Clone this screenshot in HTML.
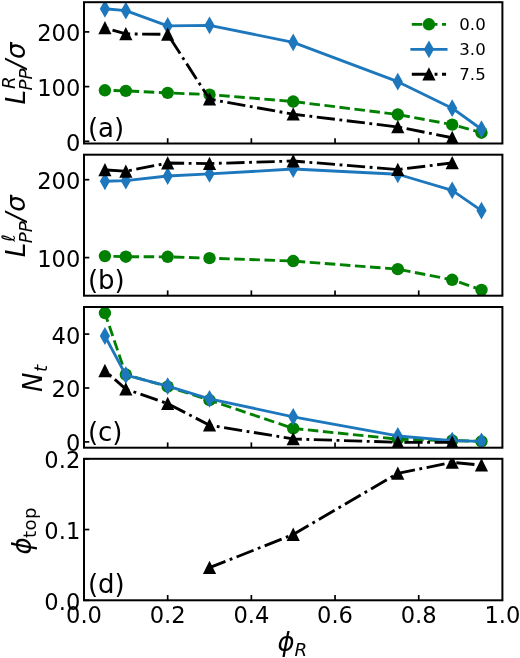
<!DOCTYPE html>
<html><head><meta charset="utf-8"><title>figure</title><style>html,body{margin:0;padding:0;background:#fff}svg{display:block}</style></head><body>
<svg width="520" height="658" viewBox="0 0 520 658" font-family='"DejaVu Sans", "Liberation Sans", sans-serif'>
<rect width="520" height="658" fill="#ffffff"/>
<defs>
<clipPath id="cpa"><rect x="84.00" y="2.20" width="418.40" height="141.30"/></clipPath>
<clipPath id="cpb"><rect x="84.00" y="154.70" width="418.40" height="141.00"/></clipPath>
<clipPath id="cpc"><rect x="84.00" y="307.00" width="418.40" height="140.70"/></clipPath>
<clipPath id="cpd"><rect x="84.00" y="458.80" width="418.40" height="141.50"/></clipPath>
</defs>
<g clip-path="url(#cpa)">
<polyline points="104.92,90.32 125.84,90.87 167.68,92.89 209.52,94.59 293.20,101.53 397.80,114.50 452.19,124.62 481.48,132.71" fill="none" stroke="#008000" stroke-width="2.85" stroke-linejoin="round" stroke-dasharray="10.55 4.56" stroke-dashoffset="6.5"/>
<circle cx="104.92" cy="90.32" r="6.2" fill="#008000"/>
<circle cx="125.84" cy="90.87" r="6.2" fill="#008000"/>
<circle cx="167.68" cy="92.89" r="6.2" fill="#008000"/>
<circle cx="209.52" cy="94.59" r="6.2" fill="#008000"/>
<circle cx="293.20" cy="101.53" r="6.2" fill="#008000"/>
<circle cx="397.80" cy="114.50" r="6.2" fill="#008000"/>
<circle cx="452.19" cy="124.62" r="6.2" fill="#008000"/>
<circle cx="481.48" cy="132.71" r="6.2" fill="#008000"/>
<polyline points="104.92,8.76 125.84,10.68 167.68,25.88 209.52,25.34 293.20,42.40 397.80,81.68 452.19,108.21 481.48,129.27" fill="none" stroke="#1d77bc" stroke-width="2.85" stroke-linejoin="round"/>
<polygon points="104.92,-0.14 110.02,8.76 104.92,17.66 99.82,8.76" fill="#1d77bc"/>
<polygon points="125.84,1.78 130.94,10.68 125.84,19.58 120.74,10.68" fill="#1d77bc"/>
<polygon points="167.68,16.98 172.78,25.88 167.68,34.78 162.58,25.88" fill="#1d77bc"/>
<polygon points="209.52,16.44 214.62,25.34 209.52,34.24 204.42,25.34" fill="#1d77bc"/>
<polygon points="293.20,33.50 298.30,42.40 293.20,51.30 288.10,42.40" fill="#1d77bc"/>
<polygon points="397.80,72.78 402.90,81.68 397.80,90.58 392.70,81.68" fill="#1d77bc"/>
<polygon points="452.19,99.31 457.29,108.21 452.19,117.11 447.09,108.21" fill="#1d77bc"/>
<polygon points="481.48,120.37 486.58,129.27 481.48,138.17 476.38,129.27" fill="#1d77bc"/>
<polyline points="104.92,27.80 125.84,33.92 167.68,34.31 209.52,99.18 293.20,114.22 397.80,126.91 452.19,137.74" fill="none" stroke="#000000" stroke-width="2.85" stroke-linejoin="round" stroke-dasharray="18.24 4.56 2.85 4.56" stroke-dashoffset="22.3"/>
<polygon points="104.92,20.90 111.52,34.20 98.32,34.20" fill="#000000"/>
<polygon points="125.84,27.02 132.44,40.32 119.24,40.32" fill="#000000"/>
<polygon points="167.68,27.41 174.28,40.71 161.08,40.71" fill="#000000"/>
<polygon points="209.52,92.28 216.12,105.58 202.92,105.58" fill="#000000"/>
<polygon points="293.20,107.32 299.80,120.62 286.60,120.62" fill="#000000"/>
<polygon points="397.80,120.01 404.40,133.31 391.20,133.31" fill="#000000"/>
<polygon points="452.19,130.84 458.79,144.14 445.59,144.14" fill="#000000"/>
</g>
<line x1="167.68" y1="143.50" x2="167.68" y2="138.20" stroke="#000" stroke-width="1.70"/>
<line x1="251.36" y1="143.50" x2="251.36" y2="138.20" stroke="#000" stroke-width="1.70"/>
<line x1="335.04" y1="143.50" x2="335.04" y2="138.20" stroke="#000" stroke-width="1.70"/>
<line x1="418.72" y1="143.50" x2="418.72" y2="138.20" stroke="#000" stroke-width="1.70"/>
<line x1="84.00" y1="141.30" x2="89.30" y2="141.30" stroke="#000" stroke-width="1.70"/>
<text x="80.30" y="150.75" font-size="22.60" text-anchor="end">0</text>
<line x1="84.00" y1="86.60" x2="89.30" y2="86.60" stroke="#000" stroke-width="1.70"/>
<text x="80.30" y="96.05" font-size="22.60" text-anchor="end">100</text>
<line x1="84.00" y1="31.90" x2="89.30" y2="31.90" stroke="#000" stroke-width="1.70"/>
<text x="80.30" y="41.35" font-size="22.60" text-anchor="end">200</text>
<rect x="84.00" y="2.20" width="418.40" height="141.30" fill="none" stroke="#000" stroke-width="2.00"/>
<text x="87.90" y="136.60" font-size="26.00">(a)</text>
<g clip-path="url(#cpb)">
<polyline points="104.92,256.12 125.84,256.74 167.68,256.82 209.52,258.15 293.20,261.03 397.80,269.13 452.19,279.80 481.48,289.93" fill="none" stroke="#008000" stroke-width="2.85" stroke-linejoin="round" stroke-dasharray="10.55 4.56" stroke-dashoffset="6.6"/>
<circle cx="104.92" cy="256.12" r="6.2" fill="#008000"/>
<circle cx="125.84" cy="256.74" r="6.2" fill="#008000"/>
<circle cx="167.68" cy="256.82" r="6.2" fill="#008000"/>
<circle cx="209.52" cy="258.15" r="6.2" fill="#008000"/>
<circle cx="293.20" cy="261.03" r="6.2" fill="#008000"/>
<circle cx="397.80" cy="269.13" r="6.2" fill="#008000"/>
<circle cx="452.19" cy="279.80" r="6.2" fill="#008000"/>
<circle cx="481.48" cy="289.93" r="6.2" fill="#008000"/>
<polyline points="104.92,181.26 125.84,180.63 167.68,176.04 209.52,173.94 293.20,169.03 397.80,174.25 452.19,190.37 481.48,210.55" fill="none" stroke="#1d77bc" stroke-width="2.85" stroke-linejoin="round"/>
<polygon points="104.92,172.36 110.02,181.26 104.92,190.16 99.82,181.26" fill="#1d77bc"/>
<polygon points="125.84,171.73 130.94,180.63 125.84,189.53 120.74,180.63" fill="#1d77bc"/>
<polygon points="167.68,167.14 172.78,176.04 167.68,184.94 162.58,176.04" fill="#1d77bc"/>
<polygon points="209.52,165.04 214.62,173.94 209.52,182.84 204.42,173.94" fill="#1d77bc"/>
<polygon points="293.20,160.13 298.30,169.03 293.20,177.93 288.10,169.03" fill="#1d77bc"/>
<polygon points="397.80,165.35 402.90,174.25 397.80,183.15 392.70,174.25" fill="#1d77bc"/>
<polygon points="452.19,181.47 457.29,190.37 452.19,199.27 447.09,190.37" fill="#1d77bc"/>
<polygon points="481.48,201.65 486.58,210.55 481.48,219.45 476.38,210.55" fill="#1d77bc"/>
<polyline points="104.92,169.88 125.84,171.29 167.68,163.03 209.52,163.57 293.20,161.00 397.80,169.57 452.19,162.95" fill="none" stroke="#000000" stroke-width="2.85" stroke-linejoin="round" stroke-dasharray="18.24 4.56 2.85 4.56" stroke-dashoffset="28.8"/>
<polygon points="104.92,162.98 111.52,176.28 98.32,176.28" fill="#000000"/>
<polygon points="125.84,164.39 132.44,177.69 119.24,177.69" fill="#000000"/>
<polygon points="167.68,156.13 174.28,169.43 161.08,169.43" fill="#000000"/>
<polygon points="209.52,156.67 216.12,169.97 202.92,169.97" fill="#000000"/>
<polygon points="293.20,154.10 299.80,167.40 286.60,167.40" fill="#000000"/>
<polygon points="397.80,162.67 404.40,175.97 391.20,175.97" fill="#000000"/>
<polygon points="452.19,156.05 458.79,169.35 445.59,169.35" fill="#000000"/>
</g>
<line x1="167.68" y1="295.70" x2="167.68" y2="290.40" stroke="#000" stroke-width="1.70"/>
<line x1="251.36" y1="295.70" x2="251.36" y2="290.40" stroke="#000" stroke-width="1.70"/>
<line x1="335.04" y1="295.70" x2="335.04" y2="290.40" stroke="#000" stroke-width="1.70"/>
<line x1="418.72" y1="295.70" x2="418.72" y2="290.40" stroke="#000" stroke-width="1.70"/>
<line x1="84.00" y1="257.60" x2="89.30" y2="257.60" stroke="#000" stroke-width="1.70"/>
<text x="80.30" y="267.05" font-size="22.60" text-anchor="end">100</text>
<line x1="84.00" y1="179.70" x2="89.30" y2="179.70" stroke="#000" stroke-width="1.70"/>
<text x="80.30" y="189.15" font-size="22.60" text-anchor="end">200</text>
<rect x="84.00" y="154.70" width="418.40" height="141.00" fill="none" stroke="#000" stroke-width="2.00"/>
<text x="87.90" y="288.80" font-size="26.00">(b)</text>
<g clip-path="url(#cpc)">
<polyline points="104.92,313.08 125.84,374.52 167.68,386.65 209.52,400.13 293.20,428.42 397.80,439.20 452.19,440.55 481.48,441.36" fill="none" stroke="#008000" stroke-width="2.85" stroke-linejoin="round" stroke-dasharray="10.55 4.56" stroke-dashoffset="1.4"/>
<circle cx="104.92" cy="313.08" r="6.2" fill="#008000"/>
<circle cx="125.84" cy="374.52" r="6.2" fill="#008000"/>
<circle cx="167.68" cy="386.65" r="6.2" fill="#008000"/>
<circle cx="209.52" cy="400.13" r="6.2" fill="#008000"/>
<circle cx="293.20" cy="428.42" r="6.2" fill="#008000"/>
<circle cx="397.80" cy="439.20" r="6.2" fill="#008000"/>
<circle cx="452.19" cy="440.55" r="6.2" fill="#008000"/>
<circle cx="481.48" cy="441.36" r="6.2" fill="#008000"/>
<polyline points="104.92,335.99 125.84,375.06 167.68,386.11 209.52,398.78 293.20,416.84 397.80,435.97 452.19,440.55 481.48,441.36" fill="none" stroke="#1d77bc" stroke-width="2.85" stroke-linejoin="round"/>
<polygon points="104.92,327.09 110.02,335.99 104.92,344.89 99.82,335.99" fill="#1d77bc"/>
<polygon points="125.84,366.16 130.94,375.06 125.84,383.96 120.74,375.06" fill="#1d77bc"/>
<polygon points="167.68,377.21 172.78,386.11 167.68,395.01 162.58,386.11" fill="#1d77bc"/>
<polygon points="209.52,389.88 214.62,398.78 209.52,407.68 204.42,398.78" fill="#1d77bc"/>
<polygon points="293.20,407.94 298.30,416.84 293.20,425.74 288.10,416.84" fill="#1d77bc"/>
<polygon points="397.80,427.07 402.90,435.97 397.80,444.87 392.70,435.97" fill="#1d77bc"/>
<polygon points="452.19,431.65 457.29,440.55 452.19,449.45 447.09,440.55" fill="#1d77bc"/>
<polygon points="481.48,432.46 486.58,441.36 481.48,450.26 476.38,441.36" fill="#1d77bc"/>
<polyline points="104.92,370.75 125.84,389.08 167.68,403.63 209.52,425.19 293.20,438.94 397.80,442.30 452.19,442.30" fill="none" stroke="#000000" stroke-width="2.85" stroke-linejoin="round" stroke-dasharray="18.24 4.56 2.85 4.56" stroke-dashoffset="17.1"/>
<polygon points="104.92,363.85 111.52,377.15 98.32,377.15" fill="#000000"/>
<polygon points="125.84,382.18 132.44,395.48 119.24,395.48" fill="#000000"/>
<polygon points="167.68,396.73 174.28,410.03 161.08,410.03" fill="#000000"/>
<polygon points="209.52,418.29 216.12,431.59 202.92,431.59" fill="#000000"/>
<polygon points="293.20,432.04 299.80,445.34 286.60,445.34" fill="#000000"/>
<polygon points="397.80,435.40 404.40,448.70 391.20,448.70" fill="#000000"/>
<polygon points="452.19,435.40 458.79,448.70 445.59,448.70" fill="#000000"/>
</g>
<line x1="167.68" y1="447.70" x2="167.68" y2="442.40" stroke="#000" stroke-width="1.70"/>
<line x1="251.36" y1="447.70" x2="251.36" y2="442.40" stroke="#000" stroke-width="1.70"/>
<line x1="335.04" y1="447.70" x2="335.04" y2="442.40" stroke="#000" stroke-width="1.70"/>
<line x1="418.72" y1="447.70" x2="418.72" y2="442.40" stroke="#000" stroke-width="1.70"/>
<line x1="84.00" y1="441.90" x2="89.30" y2="441.90" stroke="#000" stroke-width="1.70"/>
<text x="80.30" y="451.35" font-size="22.60" text-anchor="end">0</text>
<line x1="84.00" y1="388.00" x2="89.30" y2="388.00" stroke="#000" stroke-width="1.70"/>
<text x="80.30" y="397.45" font-size="22.60" text-anchor="end">20</text>
<line x1="84.00" y1="334.10" x2="89.30" y2="334.10" stroke="#000" stroke-width="1.70"/>
<text x="80.30" y="343.55" font-size="22.60" text-anchor="end">40</text>
<rect x="84.00" y="307.00" width="418.40" height="140.70" fill="none" stroke="#000" stroke-width="2.00"/>
<text x="87.90" y="440.80" font-size="26.00">(c)</text>
<g clip-path="url(#cpd)">
<polyline points="209.52,567.68 293.20,534.50 397.80,473.37 452.19,462.34 481.48,465.17" fill="none" stroke="#000000" stroke-width="2.85" stroke-linejoin="round" stroke-dasharray="18.24 4.56 2.85 4.56" stroke-dashoffset="1.1"/>
<polygon points="209.52,560.78 216.12,574.08 202.92,574.08" fill="#000000"/>
<polygon points="293.20,527.60 299.80,540.90 286.60,540.90" fill="#000000"/>
<polygon points="397.80,466.47 404.40,479.77 391.20,479.77" fill="#000000"/>
<polygon points="452.19,455.44 458.79,468.74 445.59,468.74" fill="#000000"/>
<polygon points="481.48,458.27 488.08,471.57 474.88,471.57" fill="#000000"/>
</g>
<line x1="167.68" y1="600.30" x2="167.68" y2="595.00" stroke="#000" stroke-width="1.70"/>
<line x1="251.36" y1="600.30" x2="251.36" y2="595.00" stroke="#000" stroke-width="1.70"/>
<line x1="335.04" y1="600.30" x2="335.04" y2="595.00" stroke="#000" stroke-width="1.70"/>
<line x1="418.72" y1="600.30" x2="418.72" y2="595.00" stroke="#000" stroke-width="1.70"/>
<line x1="84.00" y1="600.30" x2="89.30" y2="600.30" stroke="#000" stroke-width="1.70"/>
<text x="80.30" y="609.75" font-size="22.60" text-anchor="end">0.0</text>
<line x1="84.00" y1="529.55" x2="89.30" y2="529.55" stroke="#000" stroke-width="1.70"/>
<text x="80.30" y="539.00" font-size="22.60" text-anchor="end">0.1</text>
<line x1="84.00" y1="458.80" x2="89.30" y2="458.80" stroke="#000" stroke-width="1.70"/>
<text x="80.30" y="468.25" font-size="22.60" text-anchor="end">0.2</text>
<rect x="84.00" y="458.80" width="418.40" height="141.50" fill="none" stroke="#000" stroke-width="2.00"/>
<text x="87.90" y="593.40" font-size="26.00">(d)</text>
<text x="84.00" y="623.20" font-size="22.60" text-anchor="middle">0.0</text>
<text x="167.68" y="623.20" font-size="22.60" text-anchor="middle">0.2</text>
<text x="251.36" y="623.20" font-size="22.60" text-anchor="middle">0.4</text>
<text x="335.04" y="623.20" font-size="22.60" text-anchor="middle">0.6</text>
<text x="418.72" y="623.20" font-size="22.60" text-anchor="middle">0.8</text>
<text x="502.40" y="623.20" font-size="22.60" text-anchor="middle">1.0</text>
<line x1="411.80" y1="24.30" x2="446.10" y2="24.30" stroke="#008000" stroke-width="2.85" stroke-dasharray="10.55 4.56"/>
<circle cx="428.95" cy="24.30" r="6.2" fill="#008000"/>
<text x="459.30" y="30.36" font-size="16.60">0.0</text>
<line x1="411.80" y1="49.30" x2="446.10" y2="49.30" stroke="#1d77bc" stroke-width="2.85" stroke-linecap="square"/>
<polygon points="428.95,40.40 434.05,49.30 428.95,58.20 423.85,49.30" fill="#1d77bc"/>
<text x="459.30" y="55.36" font-size="16.60">3.0</text>
<line x1="411.80" y1="74.20" x2="446.10" y2="74.20" stroke="#000000" stroke-width="2.85" stroke-dasharray="18.24 4.56 2.85 4.56"/>
<polygon points="428.95,67.30 435.55,80.60 422.35,80.60" fill="#000000"/>
<text x="459.30" y="80.26" font-size="16.60">7.5</text>
<g transform="translate(25.00,72.00) rotate(-90)" font-style="italic"><text x="-32.50" y="0" font-size="26.00">L</text><text x="-17.00" y="-10.40" font-size="18.20">R</text><text x="-18.50" y="6.90" font-size="18.20">PP</text><text x="3.50" y="0" font-size="26.00">/</text><text x="13.00" y="0" font-size="26.00">σ</text></g>
<g transform="translate(25.00,224.70) rotate(-90)" font-style="italic"><text x="-32.50" y="0" font-size="26.00">L</text><text x="-17.00" y="-10.40" font-size="18.20">ℓ</text><text x="-18.50" y="6.90" font-size="18.20">PP</text><text x="3.50" y="0" font-size="26.00">/</text><text x="13.00" y="0" font-size="26.00">σ</text></g>
<g transform="translate(41.7,377.6) rotate(-90)" font-style="italic"><text x="-14.5" y="0" font-size="26.00">N</text><text x="5.5" y="4.8" font-size="18.20">t</text></g>
<g transform="translate(30.8,531.0) rotate(-90)"><text x="-23.5" y="0" font-size="26.00" font-style="italic">ϕ</text><text x="-7.0" y="5.0" font-size="18.20" letter-spacing="0.4">top</text></g>
<g transform="translate(292.5,651)"><text x="-15" y="0" font-size="26.00" font-style="italic">ϕ</text><text x="2.0" y="4.5" font-size="18.20" font-style="italic">R</text></g>
</svg>
</body></html>
